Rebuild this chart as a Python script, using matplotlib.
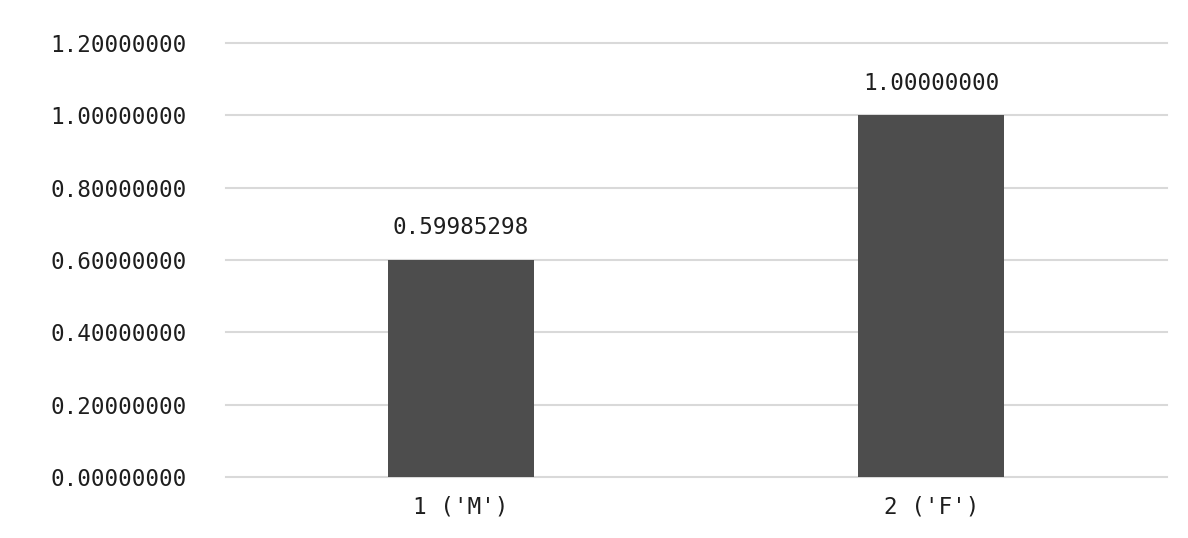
import matplotlib.pyplot as plt
from matplotlib.ticker import FormatStrFormatter

categories = ["1 ('M')", "2 ('F')"]
values = [0.59985298, 1.0]
yticks = [0.0, 0.2, 0.4, 0.6, 0.8, 1.0, 1.2]

plt.rcParams['font.family'] = 'DejaVu Sans Mono'

fig = plt.figure(figsize=(11.88, 5.38), dpi=100)
ax = fig.add_axes([0.190, 0.1134, 0.792, 0.8066])

x = range(len(categories))
ax.bar(x, values, width=0.31, color='#4d4d4d', zorder=3)
for xi, v in zip(x, values):
    ax.annotate('%.8f' % v, (xi, v), xytext=(0, 15), textcoords='offset points',
                ha='center', va='bottom', fontsize=16.3, color='#1e1e1e')

ax.set_xlim(-0.5, len(categories) - 0.5)
ax.set_ylim(0, 1.2)
ax.set_yticks(yticks)
ax.yaxis.set_major_formatter(FormatStrFormatter('%.8f'))
ax.set_xticks(list(x))
ax.set_xticklabels(categories)
ax.grid(axis='y', color='#d9d9d9', linewidth=1.5, zorder=0)
for line in ax.get_ygridlines():
    line.set_clip_on(False)
ax.tick_params(axis='both', length=0, labelsize=16.3, colors='#1e1e1e')
ax.tick_params(axis='y', pad=28)
ax.tick_params(axis='x', pad=13)
for s in ax.spines.values():
    s.set_visible(False)

fig.savefig('out.png', dpi=100)
